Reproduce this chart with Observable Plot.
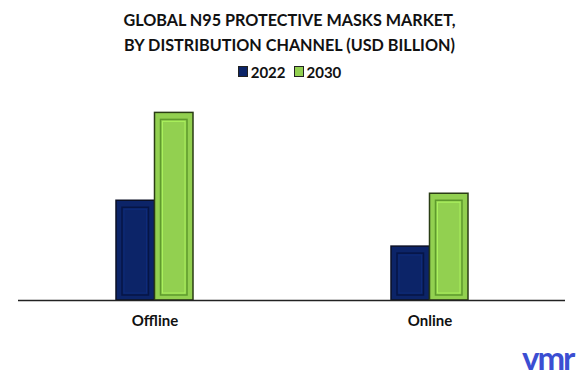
<!DOCTYPE html>
<html>
<head>
<meta charset="utf-8">
<script src="https://cdn.jsdelivr.net/npm/d3@7"></script>
<script src="https://cdn.jsdelivr.net/npm/@observablehq/plot@0.6"></script>
<style>
  html, body { margin: 0; padding: 0; background: #fff; }
  #wrap { position: relative; width: 579px; height: 379px; overflow: hidden; font-family: Lato, "Open Sans", sans-serif; }
  #title { position: absolute; top: 8px; left: 0; width: 579px; text-align: center; font-weight: 700; font-size: 16.2px; line-height: 24.5px; color: #111; }
  #legend { position: absolute; top: 62px; left: 0; width: 579px; text-align: center; font-weight: 700; font-size: 15px; color: #111; }
  .item { display: inline-flex; align-items: center; margin: 0 4px; }
  .sw { display: inline-block; width: 8px; height: 9px; border: 1px solid #222; margin-right: 3px; }
  #chart { position: absolute; top: 85px; left: 0; }
  #logo { position: absolute; left: 522px; top: 341px; font-family: Lato, sans-serif; font-size: 33px; font-weight: 700; color: #3b4ed2; letter-spacing: -2px; line-height: 33px; }
</style>
</head>
<body>
<div id="wrap">
  <div id="title">GLOBAL N95 PROTECTIVE MASKS MARKET,<br>BY DISTRIBUTION CHANNEL (USD BILLION)</div>
  <div id="legend"></div>
  <div id="chart"></div>
  <div id="logo">vmr</div>
</div>
<script>
const categories = ["Offline", "Online"];
const years = ["2022", "2030"];
const values2022 = [2.85, 1.54];
const values2030 = [5.36, 3.05];
const colors = { "2022": "#0c2468", "2030": "#92d050" };
const innerStroke = { "2022": "#061545", "2030": "#5e9a2c" };
const outerStroke = { "2022": "#0a0f25", "2030": "#2a3d14" };

const data = [];
categories.forEach((c, i) => {
  data.push({ category: c, year: "2022", value: values2022[i] });
  data.push({ category: c, year: "2030", value: values2030[i] });
});

// legend
const leg = document.getElementById("legend");
years.forEach(y => {
  const s = document.createElement("span");
  s.className = "item";
  s.innerHTML = `<span class="sw" style="background:${colors[y]}"></span>${y}`;
  leg.appendChild(s);
});

const half = 38.5;
const marks = [];
years.forEach(y => {
  const d = data.filter(r => r.year === y);
  const isFirst = y === "2022";
  const il = isFirst ? 0 : half;
  const ir = isFirst ? half : 0;
  marks.push(Plot.barY(d, { x: "category", y: "value", fill: colors[y], stroke: outerStroke[y], strokeWidth: 1.5, insetLeft: il, insetRight: ir }));
  marks.push(Plot.barY(d, { x: "category", y: "value", fill: "none", stroke: innerStroke[y], strokeWidth: 1.5, insetLeft: il + 6, insetRight: ir + 6, insetTop: 7, insetBottom: 5 }));
  marks.push(Plot.barY(d, { x: "category", y: "value", fill: "none", stroke: d3.color(colors[y]).brighter(0.6).formatHex(), strokeWidth: 1, strokeOpacity: 0.7, insetLeft: il + 8, insetRight: ir + 8, insetTop: 9, insetBottom: 7 }));
});
marks.push(Plot.ruleY([0], { stroke: "#222", strokeWidth: 1.5 }));
marks.push(Plot.axisX({ tickSize: 0, tickPadding: 15, fontSize: 15, fontWeight: 700, label: null }));

const chart = Plot.plot({
  width: 579,
  height: 294,
  marginLeft: 18,
  marginRight: 14,
  marginTop: 5,
  marginBottom: 79,
  style: { fontFamily: "Lato, 'Open Sans', sans-serif", color: "#111", background: "#fff" },
  x: { domain: categories, paddingInner: 0.72, paddingOuter: 0.351, label: null },
  y: { domain: [0, 6], axis: null },
  marks
});
document.getElementById("chart").appendChild(chart);
</script>
</body>
</html>
